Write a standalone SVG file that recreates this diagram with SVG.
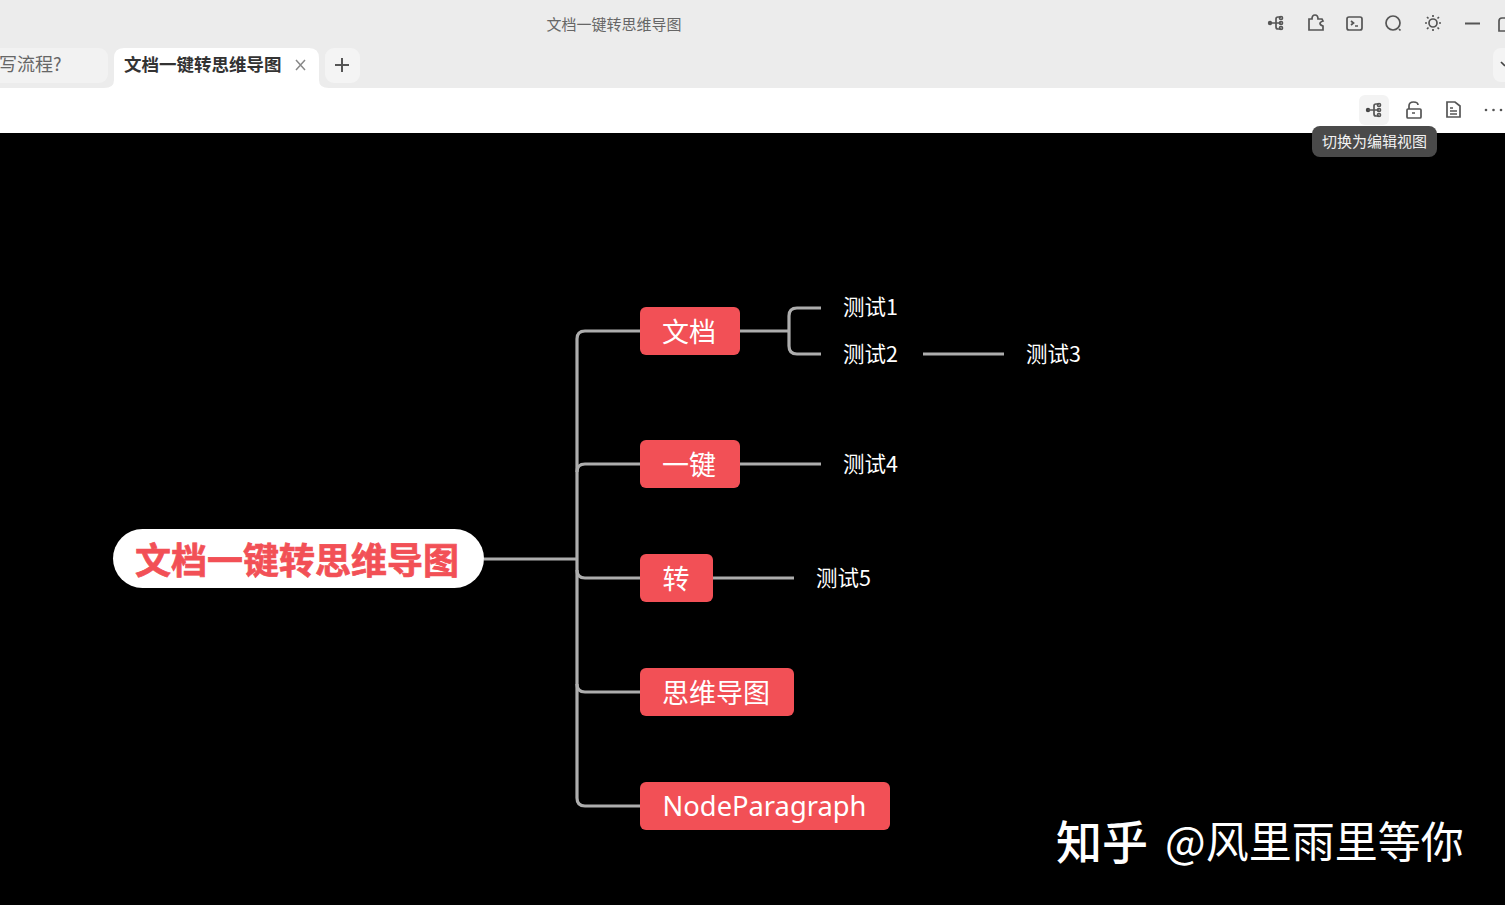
<svg xmlns="http://www.w3.org/2000/svg" width="1505" height="905" viewBox="0 0 1505 905">
<style>
text{font-family:"Noto Sans CJK SC","Noto Sans",sans-serif}
.ui{font-family:"Noto Sans CJK SC","Liberation Sans",sans-serif}
.c{fill:none;stroke:#adadad;stroke-width:3.200}
.b{fill:#f25056}
.t{fill:#fff;font-size:27px;text-anchor:middle}
.s{fill:#fff;font-size:21.500px}
.i{fill:none;stroke:#555;stroke-width:1.700}
#n5 text{font-family:"Noto Sans",sans-serif;font-size:27.300px}
</style>
<rect width="1505" height="905" fill="#000"/>
<g id="chrome">
<rect width="1505" height="88" fill="#ececec"/>
<rect y="88" width="1505" height="45" fill="#fff"/>
<text class="ui" x="614" y="30" font-size="15" fill="#666" text-anchor="middle">文档一键转思维导图</text>
<rect x="-20" y="48" width="128" height="35" rx="9" fill="#f2f2f2"/>
<text class="ui" x="-1" y="71" font-size="18" fill="#666">写流程?</text>
<path d="M104 88q10 0 10-8V58q0-10 10-10h185q10 0 10 10v22q0 8 10 8z" fill="#fff"/>
<text class="ui" x="124" y="71" font-size="17.500" font-weight="700" fill="#333">文档一键转思维导图</text>
<path d="M296 60l9 10m0-10l-9 10" stroke="#888" stroke-width="1.500" fill="none"/>
<rect x="325" y="48" width="35" height="35" rx="9" fill="#f4f4f4"/>
<path d="M335 65h14m-7-7v14" stroke="#555" stroke-width="2" fill="none"/>
<rect x="1493" y="48" width="20" height="34" rx="8" fill="#f4f4f4"/>
<path d="M1501 62l4 4" stroke="#444" stroke-width="1.700"/>
</g>
<g id="toolbar-icons">
<g id="icon-outline-top"><circle cx="1270" cy="23" r="2.200" fill="#555"/><path class="i" d="M1270 23h6m5-6h-3q-2 0-2 2v8q0 2 2 2h3m-5-6h5" stroke-width="1.300"/><circle cx="1281" cy="18" r="1.500" class="i"/><circle cx="1281" cy="23" r="1.500" class="i"/><circle cx="1281" cy="28" r="1.500" class="i"/></g>
<path class="i" d="M1309 30V19h3q0-4 3-4t3 4h4l1 2q-3 1-3 2.500t3 2.500v4z"/>
<rect class="i" x="1347" y="17" width="15" height="13" rx="2"/>
<path class="i" d="M1351 21l2.500 2-2.500 2m4 1h3"/>
<circle class="i" cx="1393" cy="23" r="7"/><path class="i" d="M1399 29l1.500 1.500"/>
<circle class="i" cx="1433" cy="23" r="4"/>
<path class="i" d="M1433 15v2m0 12v2m-8-8h2m12 0h2m-14-6l1.500 1.500m9 9l1.500 1.500m-12 0l1.500-1.500m9-9l1.500-1.500"/>
<path d="M1465 23.500h15" stroke="#555" stroke-width="2"/>
<path class="i" d="M1499 31V21q0-3 3-3h4v13z"/>
<rect x="1359" y="95" width="30" height="30" rx="6" fill="#f3f3f3"/>
<circle cx="1368" cy="110" r="2.200" fill="#444"/><path class="i" d="M1368 110h6m5-6h-3q-2 0-2 2v8q0 2 2 2h3m-5-6h5"/><circle class="i" cx="1379" cy="105" r="1.500"/><circle class="i" cx="1379" cy="110" r="1.500"/><circle class="i" cx="1379" cy="115" r="1.500"/>
<rect class="i" x="1407" y="109" width="14" height="9" rx="1"/><path class="i" d="M1409 109v-3q0-4 4.500-4t4.500 3m-6 8h3"/>
<path class="i" d="M1447 117v-15h8l5 4v11zM1450 108h3m-3 3h7m-7 3h7"/>
<g fill="#555"><circle cx="1486" cy="110" r="1.300"/><circle cx="1493.500" cy="110" r="1.300"/><circle cx="1501" cy="110" r="1.300"/></g>
</g>
<g id="connectors">
<path class="c" d="M484 559H577"/>
<path class="c" d="M640 331H585q-8 0-8 8V798q0 8 8 8h55"/>
<path class="c" d="M640 464H585q-8 0-8 8"/>
<path class="c" d="M640 578H585q-8 0-8-8"/>
<path class="c" d="M640 692H585q-8 0-8-8"/>
<path class="c" d="M740 331H789"/>
<path class="c" d="M821 308H797q-8 0-8 8V346q0 8 8 8h24"/>
<path class="c" d="M923 354H1004"/>
<path class="c" d="M740 464H821"/>
<path class="c" d="M713 578H794"/>
</g>
<g id="root"><rect x="113" y="529" width="371" height="59" rx="29.500" fill="#fff"/><text x="297" y="574" font-size="36" font-weight="700" fill="#f25056" stroke="#f25056" stroke-width="0.700" text-anchor="middle">文档一键转思维导图</text></g>
<g id="n1"><rect class="b" x="640" y="307" width="100" height="48" rx="6"/><text class="t" x="689" y="342">文档</text></g>
<g id="n2"><rect class="b" x="640" y="440" width="100" height="48" rx="6"/><text class="t" x="689" y="475">一键</text></g>
<g id="n3"><rect class="b" x="640" y="554" width="73" height="48" rx="6"/><text class="t" x="676" y="589">转</text></g>
<g id="n4"><rect class="b" x="640" y="668" width="154" height="48" rx="6"/><text class="t" x="716" y="703">思维导图</text></g>
<g id="n5"><rect class="b" x="640" y="782" width="250" height="48" rx="6"/><text class="t" x="764.500" y="816">NodeParagraph</text></g>
<g id="s1"><text class="s" x="843" y="315">测试1</text></g>
<g id="s2"><text class="s" x="843" y="362">测试2</text></g>
<g id="s3"><text class="s" x="1026" y="362">测试3</text></g>
<g id="s4"><text class="s" x="843" y="472">测试4</text></g>
<g id="s5"><text class="s" x="816" y="586">测试5</text></g>
<g id="tooltip"><rect x="1312" y="126" width="125" height="31" rx="8" fill="#4a4a4a"/><text class="ui" x="1374.500" y="147" font-size="15" fill="#f2f2f2" text-anchor="middle">切换为编辑视图</text></g>
<g id="watermark"><text x="1056" y="859" font-size="46" font-weight="500" fill="#fff">知乎</text><text x="1165" y="858" font-size="43" fill="#fff">@风里雨里等你</text></g>
</svg>
